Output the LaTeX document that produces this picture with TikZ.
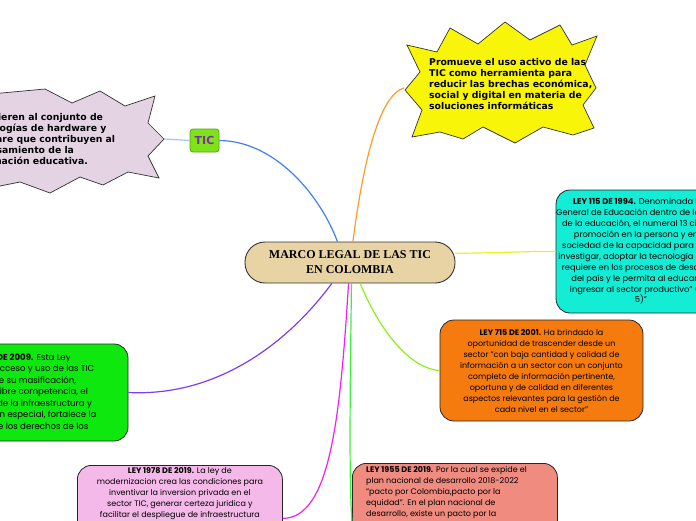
\documentclass[tikz,border=0pt]{standalone}
\usepackage{fontspec}
\setmainfont{Poppins}
\newfontfamily\starfont{DejaVu Sans}
\newfontfamily\titlefont{Liberation Serif}
\usetikzlibrary{positioning}
\definecolor{titlebg}{HTML}{E8D3A5}
\definecolor{ticbg}{HTML}{7FE319}
\definecolor{ticborder}{HTML}{5B9E1A}
\definecolor{ticpurple}{HTML}{7B2FA0}
\definecolor{lilac}{HTML}{E3D3E3}
\definecolor{staryellow}{HTML}{F8F508}
\definecolor{aqua}{HTML}{14EDD6}
\definecolor{orangebg}{HTML}{F57B0E}
\definecolor{limebg}{HTML}{0EE80E}
\definecolor{pinkbg}{HTML}{F4B9E8}
\definecolor{salmonbg}{HTML}{F08B80}
\definecolor{lnlight}{HTML}{A4C4F4}
\definecolor{lnblue}{HTML}{3F7EF5}
\definecolor{lnorange}{HTML}{FF9A2A}
\definecolor{lnyellow}{HTML}{EEEE22}
\definecolor{lnlime}{HTML}{8CF020}
\definecolor{lngreen}{HTML}{3CF03C}
\definecolor{lnmagenta}{HTML}{F020F0}
\definecolor{lnviolet}{HTML}{7B3DF5}
\tikzset{
box/.style={draw=black!85, line width=0.8pt, rounded corners=14pt}, % boxes of the laws
boxtext/.style={font=\fontsize{8}{11}\selectfont, align=center, inner sep=0pt},
star/.style={draw=black!80, line width=0.7pt}, % jagged bubbles
startext/.style={font=\starfont\bfseries\fontsize{9.3}{10.8}\selectfont, align=left, inner sep=0pt},
link/.style={line width=1.2pt},
}

\begin{document}
\begin{tikzpicture}[x=1pt, y=-1pt]
    \useasboundingbox (0,0) rectangle (696,520);
    % jagged bubbles
    \draw[star, fill=lilac] (-20,95) -- (45,89) -- (72,103) -- (100,91) -- (125,106) -- (155,96) -- (148,123) -- (164,139) -- (148,156) -- (159,178) -- (128,172) -- (103,185) -- (80,177) -- (50,193) -- (20,182) -- (-20,190) -- cycle;
    \draw[star, fill=staryellow] (407,45) -- (437,52) -- (450,28) -- (478,44) -- (505,22) -- (530,40) -- (560,25) -- (572,45) -- (597,36) -- (585,65) -- (596,88) -- (583,105) -- (594,128) -- (573,135) -- (543,127) -- (515,143) -- (483,127) -- (463,139) -- (440,132) -- (412,137) -- (422,110) -- (405,90) -- (420,72) -- cycle;
    \coordinate (ltip) at (164,139);
    \coordinate (ytip) at (404,88);
    \node[startext, anchor=west] (ltext) at (-33,139) {Se refieren al conjunto de\\tecnologías de hardware y\\software que contribuyen al\\procesamiento de la\\información educativa.};
    \node[startext, anchor=west] (ytext) at (429,84) {Promueve el uso activo de las\\TIC como herramienta para\\reducir las brechas económica,\\social y digital en materia de\\soluciones informáticas};
    % central topic and TIC
    \node[draw=black!80, line width=0.9pt, fill=titlebg, rounded corners=20pt, minimum width=210pt, minimum height=41pt, align=center, font=\titlefont\bfseries\fontsize{12}{15}\selectfont] (title) at (350,262.5) {MARCO LEGAL DE LAS TIC\\EN COLOMBIA};
    \node[draw=ticborder, line width=0.8pt, fill=ticbg, rounded corners=3pt, minimum width=29pt, minimum height=23pt, inner sep=0pt, text=ticpurple, font=\starfont\bfseries\fontsize{11}{13}\selectfont] (tic) at (204.5,140.5) {TIC};
    % laws
    \node[box, fill=aqua, minimum width=166pt, minimum height=123pt, boxtext, font=\fontsize{8.3}{10.9}\selectfont] (ley115) at (641,251.5) {\textbf{LEY 115 DE 1994.} Denominada Ley\\General de Educación dentro de los fines\\de la educación, el numeral 13 cita "La\\promoción en la persona y en la\\sociedad de la capacidad para crear,\\investigar, adoptar la tecnología que se\\requiere en los procesos de desarrollo\\del país y le permita al educando\\ingresar al sector productivo" (Art.\\5)"};
    \node[box, fill=orangebg, minimum width=203pt, minimum height=101pt, boxtext] (ley715) at (541.5,370.5) {\textbf{LEY 715 DE 2001.} Ha brindado la\\oportunidad de trascender desde un\\sector "con baja cantidad y calidad de\\información a un sector con un conjunto\\completo de información pertinente,\\oportuna y de calidad en diferentes\\aspectos relevantes para la gestión de\\cada nivel en el sector"};
    \node[box, fill=limebg, minimum width=224pt, minimum height=97pt] (ley1341) at (16,392.5) {};
    \node[boxtext, font=\fontsize{8.6}{11.5}\selectfont] (txt1341) at (ley1341.center) {\textbf{LEY 1341 DE 2009.} Esta Ley\\promueve el acceso y uso de las TIC\\a través de su masificación,\\garantiza la libre competencia, el\\uso eficiente de la infraestructura y\\el espectro, y en especial, fortalece la\\protección de los derechos de los};
    \node[box, fill=pinkbg, minimum width=205pt, minimum height=106pt, anchor=north west] (ley1978) at (77,465) {};
    \node[boxtext, anchor=north, below=2pt of ley1978.north] (txt1978) {\textbf{LEY 1978 DE 2019.} La ley de\\modernizacion crea las condiciones para\\inventivar la inversion privada en el\\sector TIC, generar certeza juridica y\\facilitar el despliegue de infraestructura};
    \node[box, fill=salmonbg, minimum width=205pt, minimum height=120pt, anchor=north west] (ley1955) at (352,463) {};
    \node[boxtext, align=left, anchor=north west] (txt1955) at (366,466) {\textbf{LEY 1955 DE 2019.} Por la cual se expide el\\plan nacional de desarrollo 2018-2022\\"pacto por Colombia,pacto por la\\equidad". En el plan nacional de\\desarrollo, existe un pacto por la};
    % connectors
    \draw[link, lnlight] (ltip) -- (tic.west);
    \draw[link, lnblue] (tic.east) .. controls (275,141) and (320,195) .. (title.121);
    \draw[link, lnorange] (title.82) .. controls (362,170) and (378,95) .. (ytip);
    \draw[link, lnyellow] (title.5) .. controls (500,253) and (530,251) .. (ley115.west);
    \draw[link, lnlime] (title.-64) .. controls (375,320) and (405,368) .. (ley715.west);
    \draw[link, lngreen] (title.-86) .. controls (350,400) and (349,480) .. (ley1955.west);
    \draw[link, lnmagenta] (title.-94) .. controls (340,420) and (330,518) .. (ley1978.east);
    \draw[link, lnviolet] (title.-131) .. controls (290,340) and (220,397) .. (ley1341.east);
\end{tikzpicture}
\end{document}
